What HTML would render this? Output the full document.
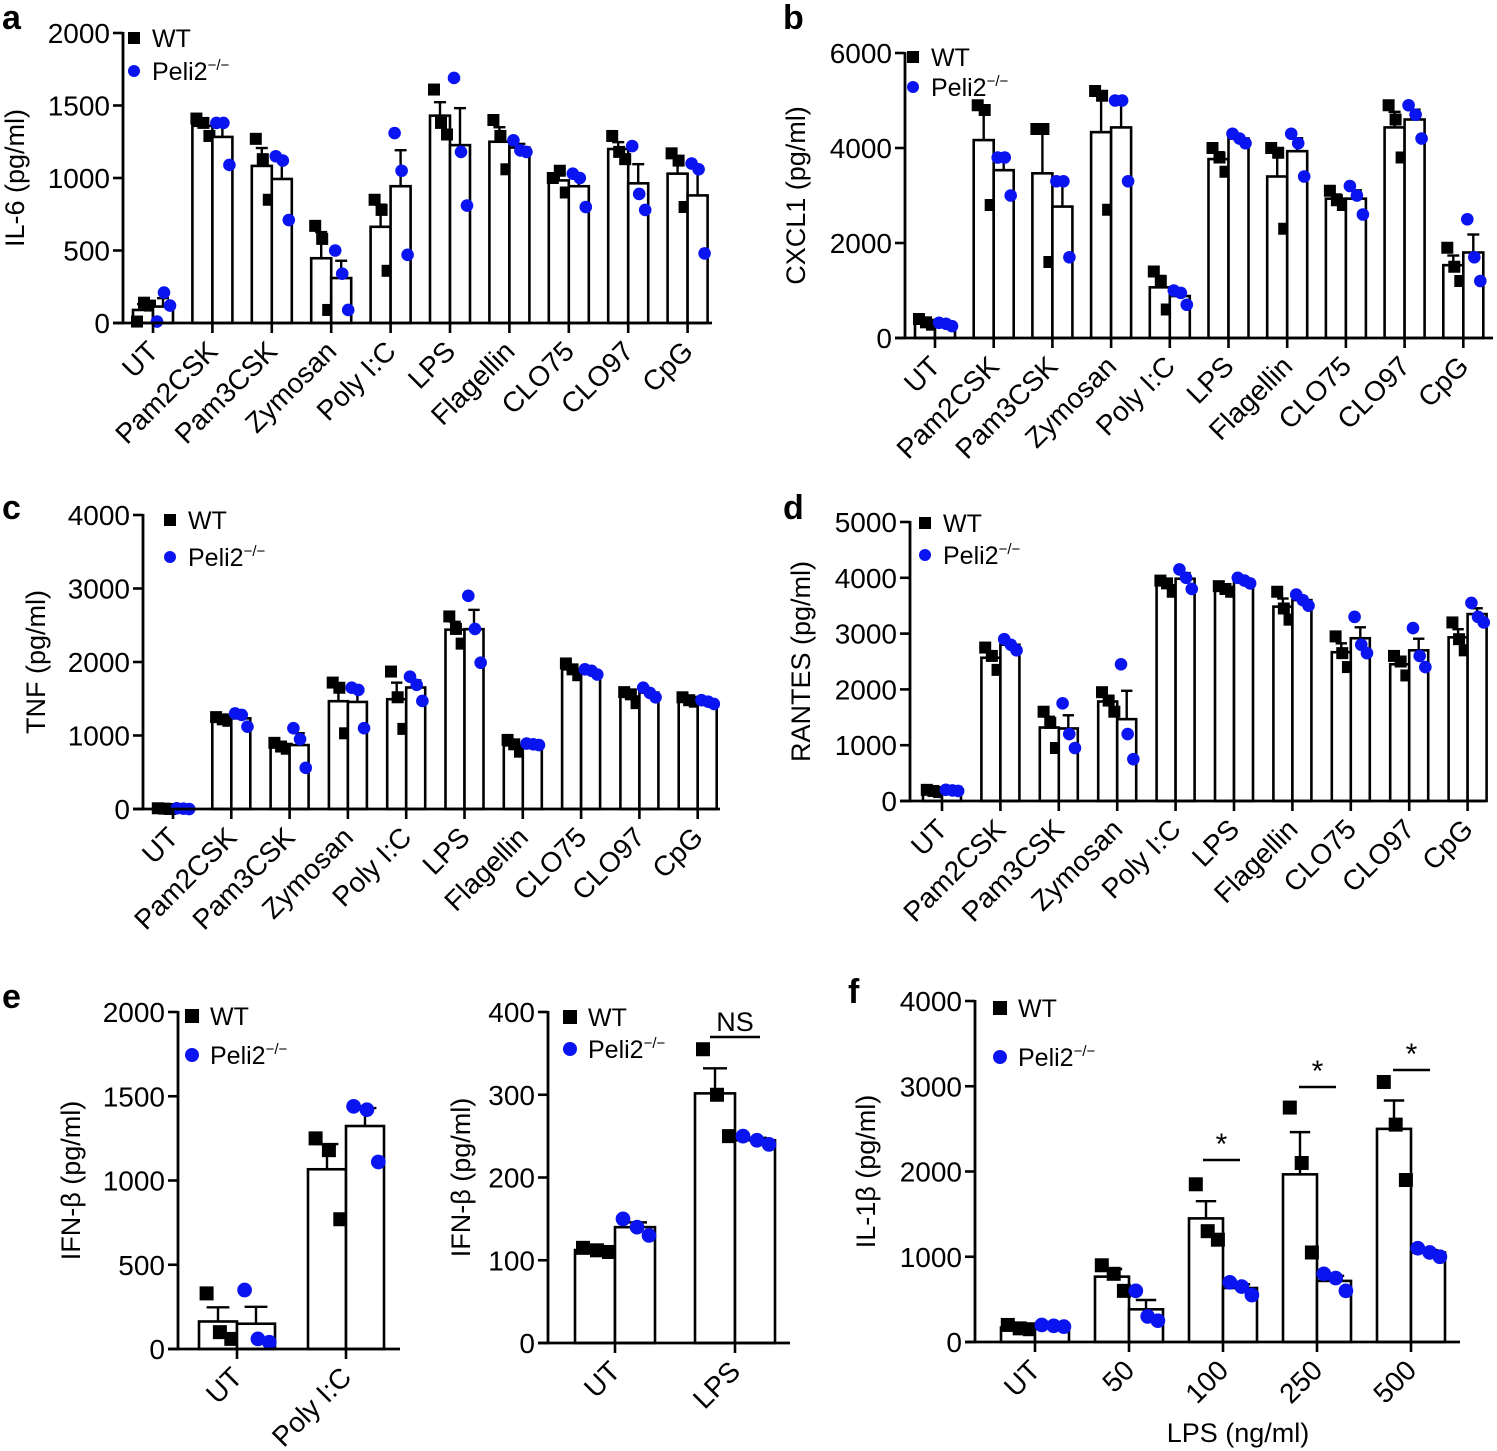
<!DOCTYPE html>
<html><head><meta charset="utf-8"><style>
html,body{margin:0;padding:0;background:#fff}
svg{display:block;font-family:"Liberation Sans",Arial,sans-serif}
</style></head><body>
<svg id="fig" width="1497" height="1451" viewBox="0 0 1497 1451"></svg>
<script>
const catsTLR = ["UT","Pam2CSK","Pam3CSK","Zymosan","Poly I:C","LPS","Flagellin","CLO75","CLO97","CpG"];
const aWT = [[10,140,120],[1410,1380,1290],[1270,1130,850],[670,580,90],[850,780,360],[1610,1380,1300],[1400,1290,1060],[1000,1050,900],[1290,1180,1130],[1170,1120,800]];
const aPE = [[10,210,120],[1380,1380,1090],[1150,1120,710],[500,340,90],[1310,1050,470],[1690,1180,810],[1260,1190,1180],[1030,1000,800],[1220,890,780],[1100,1060,480]];
const bWT = [[400,330,280],[4900,4800,2800],[4400,4400,1600],[5200,5100,2700],[1400,1200,600],[4000,3800,3500],[4000,3900,2300],[3100,2900,2800],[4900,4600,3800],[1900,1500,1200]];
const bPE = [[320,300,250],[3800,3800,3000],[3300,3300,1700],[5000,5000,3300],[1000,950,700],[4300,4200,4100],[4300,4100,3400],[3200,3000,2600],[4900,4700,4200],[2500,1700,1200]];
const cWT = [[10,5,0],[1250,1220,1200],[900,850,820],[1720,1650,1030],[1870,1520,1090],[2620,2450,2250],[940,880,780],[1980,1900,1820],[1590,1560,1440],[1520,1480,1460]];
const cPE = [[10,5,0],[1300,1280,1120],[1100,950,560],[1650,1620,1100],[1800,1690,1470],[2900,2450,1990],[890,880,870],[1900,1880,1830],[1650,1580,1520],[1480,1460,1430]];
const dWT = [[200,180,160],[2750,2600,2350],[1600,1400,950],[1950,1800,1600],[3950,3900,3750],[3850,3800,3750],[3750,3450,3250],[2950,2650,2400],[2600,2500,2250],[3200,2900,2700]];
const dPE = [[200,190,180],[2900,2800,2700],[1750,1200,950],[2450,1200,750],[4150,4000,3800],[4000,3950,3900],[3700,3600,3500],[3300,2800,2650],[3100,2600,2400],[3550,3300,3200]];
const catsE1 = ["UT","Poly I:C"];
const e1WT = [[330,100,60],[1250,1180,770]];
const e1PE = [[350,60,40],[1440,1420,1110]];
const catsE2 = ["UT","LPS"];
const e2WT = [[115,112,110],[355,300,250]];
const e2PE = [[150,140,130],[250,245,240]];
const catsF = ["UT","50","100","250","500"];
const fWT = [[200,160,150],[900,800,600],[1850,1300,1200],[2750,2100,1050],[3050,2550,1900]];
const fPE = [[200,190,180],[600,300,250],[700,650,550],[800,750,600],[1100,1050,1000]];
const ticksA=[0,500,1000,1500,2000], ticksB=[0,2000,4000,6000], ticksC=[0,1000,2000,3000,4000], ticksD=[0,1000,2000,3000,4000,5000], ticksE1=[0,500,1000,1500,2000], ticksE2=[0,100,200,300,400], ticksF=[0,1000,2000,3000,4000];

const NS="http://www.w3.org/2000/svg";
const svg=document.getElementById('fig');
function mk(tag,attrs,parent,text){const e=document.createElementNS(NS,tag);for(const k in attrs)e.setAttribute(k,attrs[k]);if(text!==undefined)e.textContent=text;(parent||svg).appendChild(e);return e;}
const mean=a=>a.reduce((s,v)=>s+v,0)/a.length;
const sem=a=>{const m=mean(a);return Math.sqrt(a.reduce((s,v)=>s+(v-m)*(v-m),0)/(a.length-1))/Math.sqrt(a.length);};

function panel(p){
  const g=mk('g',{});
  
  
  const ymax=p.ticks[p.ticks.length-1];
  const Y=v=>p.y0-(v/ymax)*(p.y0-p.yTop);
  const X=i=>p.c0+i*p.sp;
  [[p.wt,-1,'wt'],[p.pe,0,'pe']].forEach(([ser,off,key])=>{
    ser.forEach((pts,i)=>{
      const m=mean(pts), se=sem(pts);
      const bx=X(i)+off*p.bw;
      const r=mk('rect',{x:bx,y:Y(m),width:p.bw,height:p.y0-Y(m),fill:'#fff',stroke:'#000','stroke-width':2.6},g);
      
      
      const cx=bx+p.bw/2;
      mk('line',{x1:cx,x2:cx,y1:Y(m),y2:Y(m+se),stroke:'#000','stroke-width':2.4},g);
      mk('line',{x1:cx-p.bw*0.3,x2:cx+p.bw*0.3,y1:Y(m+se),y2:Y(m+se),stroke:'#000','stroke-width':2.4},g);
      const offs=[-p.bw*0.3,p.bw*0.05,p.bw*0.35];
      pts.forEach((v,j)=>{
        const px=cx+offs[j];
        let mkEl;
        if(key==='wt') mkEl=mk('rect',{x:px-p.ms,y:Y(v)-p.ms,width:2*p.ms,height:2*p.ms,fill:'#000'},g);
        else mkEl=mk('circle',{cx:px,cy:Y(v),r:p.ms*1.05,fill:'#0a14f0'},g);
        
        
      });
    });
  });
  const ya=mk('line',{x1:p.x0,x2:p.x0,y1:p.yTop-1,y2:p.y0+1.3,stroke:'#000','stroke-width':2.8},g);
  
  
  const xa=mk('line',{x1:p.x0-10,x2:p.xEnd,y1:p.y0,y2:p.y0,stroke:'#000','stroke-width':2.8},g);
  
  
  p.ticks.forEach(t=>{
    mk('line',{x1:p.x0-10,x2:p.x0,y1:Y(t),y2:Y(t),stroke:'#000','stroke-width':2.6},g);
    const tl=mk('text',{x:p.x0-13,y:Y(t)+10,'text-anchor':'end','font-size':p.fs},g,String(t));
    
    
  });
  p.cats.forEach((c,i)=>{
    mk('line',{x1:X(i),x2:X(i),y1:p.y0,y2:p.y0+10,stroke:'#000','stroke-width':2.6},g);
    const tl=mk('text',{x:X(i)+7,y:p.y0+30,'text-anchor':'end','font-size':p.fs,transform:`rotate(-45 ${X(i)+7} ${p.y0+30})`},g,c);
    
    
  });
  const tt=mk('text',{x:p.tx,y:(p.y0+p.yTop)/2,'text-anchor':'middle','font-size':p.fs-1,transform:`rotate(-90 ${p.tx} ${(p.y0+p.yTop)/2})`},g,p.title);
  
  
  const L=p.leg;
  const l1=mk('rect',{x:L[0]-p.ms,y:L[1]-p.ms,width:2*p.ms,height:2*p.ms,fill:'#000'},g);
  
  
  const lt1=mk('text',{x:L[0]+18,y:L[1]+9,'font-size':p.fs-3},g,'WT');
  
  
  const l2=mk('circle',{cx:L[0],cy:L[1]+L[2],r:p.ms,fill:'#0a14f0'},g);
  
  
  const lt2=mk('text',{x:L[0]+18,y:L[1]+L[2]+9,'font-size':p.fs-3},g);
  
  
  lt2.appendChild(document.createTextNode('Peli2'));
  mk('tspan',{dy:-10,'font-size':(p.fs-3)*0.6},lt2,'\u2212/\u2212');
  const lt=mk('text',{x:p.letter[0],y:p.letter[1],'font-size':34,'font-weight':'bold'},g,p.lname);
  
  
  return {Y,X};
}
panel({name:'panel-a-il6',lname:'a',letter:[2,29],cats:catsTLR,wt:aWT,pe:aPE,ticks:ticksA,x0:123,y0:323,yTop:33,xEnd:712,c0:153,sp:59.4,bw:20,ms:6,fs:28,title:'IL-6 (pg/ml)',tx:24,leg:[134,38,33]});
panel({name:'panel-b-cxcl1',lname:'b',letter:[783,29],cats:catsTLR,wt:bWT,pe:bPE,ticks:ticksB,x0:905,y0:338,yTop:53,xEnd:1493,c0:935,sp:58.7,bw:20,ms:6,fs:28,title:'CXCL1 (pg/ml)',tx:805,leg:[913,57,30]});
panel({name:'panel-c-tnf',lname:'c',letter:[2,519],cats:catsTLR,wt:cWT,pe:cPE,ticks:ticksC,x0:143,y0:809,yTop:515,xEnd:720,c0:173,sp:58.3,bw:19,ms:6,fs:28,title:'TNF (pg/ml)',tx:45,leg:[170,520,37]});
panel({name:'panel-d-rantes',lname:'d',letter:[783,519],cats:catsTLR,wt:dWT,pe:dPE,ticks:ticksD,x0:910,y0:801,yTop:522,xEnd:1485,c0:942,sp:58.4,bw:19,ms:6,fs:28,title:'RANTES (pg/ml)',tx:810,leg:[925,523,32]});
panel({name:'panel-e-ifnb-polyic',lname:'e',letter:[2,1008],cats:catsE1,wt:e1WT,pe:e1PE,ticks:ticksE1,x0:178,y0:1349,yTop:1012,xEnd:400,c0:237,sp:109,bw:38,ms:7,fs:28,title:'IFN-\u03b2 (pg/ml)',tx:80,leg:[192,1016,39]});
panel({name:'panel-e-ifnb-lps',lname:'',letter:[0,0],cats:catsE2,wt:e2WT,pe:e2PE,ticks:ticksE2,x0:548,y0:1343,yTop:1012,xEnd:790,c0:615,sp:120,bw:40,ms:7,fs:28,title:'IFN-\u03b2 (pg/ml)',tx:470,leg:[570,1017,32]});
panel({name:'panel-f-il1b',lname:'f',letter:[848,1003],cats:catsF,wt:fWT,pe:fPE,ticks:ticksF,x0:975,y0:1342,yTop:1001,xEnd:1460,c0:1035,sp:94,bw:34,ms:7,fs:28,title:'IL-1\u03b2 (pg/ml)',tx:875,leg:[1000,1008,49]});
function sig(x1,x2,y,t,fs){mk('line',{x1:x1,x2:x2,y1:y,y2:y,stroke:'#000','stroke-width':2.4});const s=mk('text',{x:(x1+x2)/2,y:y-6,'text-anchor':'middle','font-size':fs},svg,t);}
sig(710,760,1037,'NS',27);
sig(1203,1240,1160,'*',30);
sig(1299,1336,1087,'*',30);
sig(1393,1430,1070,'*',30);
const ft=mk('text',{x:1238,y:1442,'text-anchor':'middle','font-size':27},svg,'LPS (ng/ml)');


</script>
</body></html>
